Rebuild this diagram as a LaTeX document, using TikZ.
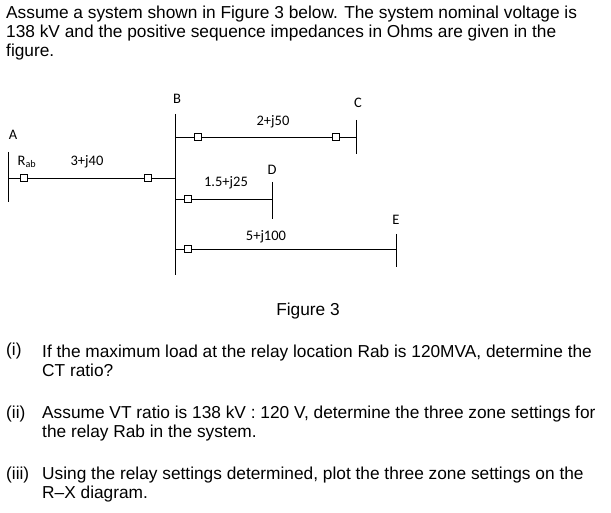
\documentclass[tikz,border=0pt]{standalone}
\usepackage{fontspec}
\setmainfont{Liberation Sans}
\newfontfamily\lab{Carlito}
\begin{document}
\begin{tikzpicture}[x=1pt,y=-1pt,
  bus/.style={line width=1pt},
  ln/.style={line width=0.8pt},
  brk/.style={draw,fill=white,line width=0.7pt,minimum size=7pt,inner sep=0pt},
  lb/.style={font=\lab\fontsize{14.5}{16}\selectfont},
  tx/.style={anchor=west,align=left,font=\fontsize{17.3}{19}\selectfont,inner sep=0pt}]
\useasboundingbox (0,0) rectangle (611,513);
% buses
\draw[bus] (8,152) -- (8,202);
\draw[bus] (175,114) -- (175,275);
\draw[bus] (356,120) -- (356,154);
\draw[bus] (272,182) -- (272,219);
\draw[bus] (396,234) -- (396,267);
% lines
\coordinate (A) at (8,178); \coordinate (BA) at (175,178);
\coordinate (BC) at (175,137); \coordinate (C) at (356,137);
\coordinate (BD) at (175,199); \coordinate (D) at (272,199);
\coordinate (BE) at (175,249); \coordinate (E) at (396,249);
\draw[ln] (A) -- (BA); \draw[ln] (BC) -- (C); \draw[ln] (BD) -- (D); \draw[ln] (BE) -- (E);
\node[brk] (r1) at (24,178) {}; \node[brk] (r2) at (148,178) {};
\node[brk] (r3) at (198,137) {}; \node[brk] (r4) at (336,137) {};
\node[brk] (r5) at (188,199) {}; \node[brk] (r6) at (188,249) {};
% labels
\node[lb] (lA) at (13,135) {A};
\node[lb] (lB) at (177,99) {B};
\node[lb] (lC) at (358,103) {C};
\node[lb] (lD) at (272,170) {D};
\node[lb] (lE) at (396,220) {E};
\node[lb] (lR) at (27,162) {R\textsubscript{ab}};
\node[lb] (l1) at (87,162) {3+j40};
\node[lb] (l2) at (273,122) {2+j50};
\node[lb] (l3) at (226,183) {1.5+j25};
\node[lb] (l4) at (266,237) {5+j100};
% text
\node[tx] (t0) at (6,33) {Assume a system shown in Figure 3 below. The system nominal voltage is\\138 kV and the positive sequence impedances in Ohms are given in the\\figure.};
\node[font=\fontsize{17.3}{19}\selectfont] (fig) at (308,311) {Figure 3};
\node[tx] (i1) at (6,351) {(i)};
\node[tx] (t1) at (42,361) {If the maximum load at the relay location Rab is 120MVA, determine the\\CT ratio?};
\node[tx] (i2) at (6,414) {(ii)};
\node[tx] (t2) at (42,424) {Assume VT ratio is 138 kV : 120 V, determine the three zone settings for\\the relay Rab in the system.};
\node[tx] (i3) at (6,475) {(iii)};
\node[tx] (t3) at (42,485) {Using the relay settings determined, plot the three zone settings on the\\R--X diagram.};
\end{tikzpicture}
\end{document}
